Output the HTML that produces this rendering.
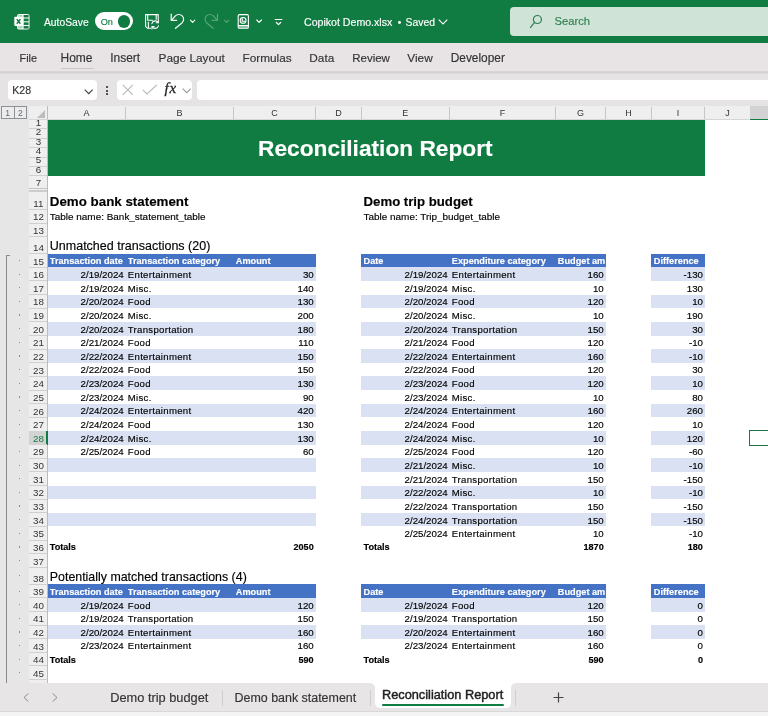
<!DOCTYPE html>
<html><head><meta charset="utf-8"><title>Copikot Demo.xlsx - Excel</title>
<style>
html,body{margin:0;padding:0}
body{width:768px;height:716px;overflow:hidden;position:relative;background:#fff;font-family:'Liberation Sans', Arial, sans-serif;}
.t{position:absolute;white-space:pre;-webkit-text-stroke:0.15px currentColor}
svg{position:absolute;overflow:visible}
</style></head><body>
<div style="position:absolute;left:0px;top:0px;width:768px;height:42.5px;background:#107c41"></div>
<svg style="left:14px;top:14px" width="16" height="16" viewBox="0 0 16 16">
<rect x="3.5" y="0.5" width="11.5" height="14.5" rx="1.3" fill="#a9d1b9" stroke="#fff" stroke-width="1"/>
<rect x="9.3" y="1" width="5.2" height="13.5" fill="#107c41"/>
<rect x="4" y="3.6" width="5.3" height="8.3" fill="#fff"/>
<g stroke="#f2f8f4" stroke-width="1.1"><line x1="9" y1="0.5" x2="9" y2="15"/><line x1="9" y1="4" x2="15" y2="4"/><line x1="9" y1="7.8" x2="15" y2="7.8"/><line x1="9" y1="11.5" x2="15" y2="11.5"/><line x1="3.5" y1="4" x2="9" y2="4"/><line x1="3.5" y1="11.5" x2="9" y2="11.5"/></g>
<rect x="0.3" y="2.8" width="8.6" height="9.1" rx="0.8" fill="#fff"/>
<path d="M2.8 5.1 L6.4 9.8 M6.4 5.1 L2.8 9.8" stroke="#107c41" stroke-width="1.5"/>
</svg>
<div class="t" style="left:44.00px;top:17.30px;font-size:10.3px;line-height:11px;font-weight:normal;color:#fff;">AutoSave</div>
<div style="position:absolute;left:94.5px;top:12px;width:38.7px;height:18px;background:#fff;border-radius:9px"></div>
<div style="position:absolute;left:117.5px;top:14.8px;width:12.8px;height:12.8px;border-radius:50%;background:#107c41"></div>
<div class="t" style="left:100.70px;top:16.90px;font-size:9.1px;line-height:10px;font-weight:normal;color:#107c41;">On</div>
<svg style="left:0;top:0" width="300" height="42" viewBox="0 0 300 42"><g fill="none" stroke="#fff" stroke-width="1.1" stroke-linecap="round" stroke-linejoin="round">
<path d="M158.2 19.4 V14.6 H145.6 V26.4 L147.5 28.3 H150.6"/>
<path d="M147.7 14.8 V20.2 H152.6 M156.2 14.8 V19.2"/>
<path d="M148.4 22.2 V27.8"/>
<path d="M151.9 23.6 A3.4 3.4 0 0 1 158.2 22.6 M158.4 25.8 A3.4 3.4 0 0 1 152.2 26.8"/>
<path d="M158.4 20.4 V22.8 H156.2 M152 29 V26.6 H154.2"/>
<path d="M171.2 14.2 V20.3 H176.6" stroke-width="1.2"/>
<path d="M171.7 19.8 L175.4 15.9 A4.8 4.8 0 1 1 182.2 22.7 L175.5 28.3" stroke-width="1.2"/>
<path d="M190.4 20.1 L192.6 22.3 L194.8 20.1"/>
<g opacity="0.3" stroke-width="1.2"><path d="M217.5 14.2 V20.3 H212.1"/><path d="M217 19.8 L213.3 15.9 A4.8 4.8 0 1 0 206.5 22.7 L213.2 28.3"/>
<path d="M224.4 20.1 L226.6 22.3 L228.8 20.1" stroke-width="1.1"/></g>
<rect x="238.2" y="14.6" width="10.2" height="13.7" rx="1.3"/>
<path d="M238.2 25.6 H248.4"/>
<circle cx="243.1" cy="20.4" r="2.9"/>
<path d="M242.2 18.3 V21.2 H244.6"/>
<path d="M256.7 20 L259.1 22.4 L261.5 20"/>
<path d="M275.2 19.5 H281.8" stroke-width="1.2"/>
<path d="M276.4 22.5 L278.5 24.6 L280.6 22.5" stroke-width="1.2"/>
</g>
<rect x="238.8" y="26.1" width="9" height="1.8" fill="#fff" opacity="0.45"/>
</svg>
<div class="t" style="left:304.00px;top:16.30px;font-size:10.6px;line-height:12px;font-weight:normal;color:#fff;">Copikot Demo.xlsx</div>
<div style="position:absolute;left:397.9px;top:20.9px;width:2.8px;height:2.8px;border-radius:50%;background:#fff"></div>
<div class="t" style="left:405.60px;top:17.30px;font-size:10.35px;line-height:11px;font-weight:normal;color:#fff;">Saved</div>
<svg style="left:438px;top:18.5px" width="10" height="6" viewBox="0 0 10 6"><path d="M0.7 0.7 L5 5 L9.3 0.7" fill="none" stroke="#fff" stroke-width="1.1"/></svg>
<div style="position:absolute;left:510px;top:7px;width:270px;height:29px;background:#cfe4d7;border-radius:4px"></div>
<svg style="left:529px;top:13.7px" width="14" height="15" viewBox="0 0 14 15"><g fill="none" stroke="#2e7d4f" stroke-width="1.2">
<circle cx="8.4" cy="5.5" r="4"/><path d="M5.5 8.4 L1.2 13.8"/></g></svg>
<div class="t" style="left:554.60px;top:15.30px;font-size:11.2px;line-height:12px;font-weight:normal;color:#2e7d4f;">Search</div>
<div style="position:absolute;left:0px;top:42.5px;width:768px;height:29px;background:#e8e4e6"></div>
<div style="position:absolute;left:0px;top:71px;width:768px;height:3px;background:linear-gradient(#dedcde 0,#cfcdcf 35%,#d9d7d9 70%,#e3e1e3 100%)"></div>
<div class="t" style="left:19.50px;top:52.00px;font-size:10.9px;line-height:12px;font-weight:normal;color:#333;">File</div>
<div class="t" style="left:60.50px;top:51.00px;font-size:12.0px;line-height:14px;font-weight:normal;color:#333;">Home</div>
<div class="t" style="left:110.20px;top:51.00px;font-size:12.0px;line-height:14px;font-weight:normal;color:#333;">Insert</div>
<div class="t" style="left:158.60px;top:51.00px;font-size:11.8px;line-height:14px;font-weight:normal;color:#333;">Page Layout</div>
<div class="t" style="left:242.50px;top:51.00px;font-size:11.8px;line-height:14px;font-weight:normal;color:#333;">Formulas</div>
<div class="t" style="left:309.30px;top:51.00px;font-size:11.8px;line-height:14px;font-weight:normal;color:#333;">Data</div>
<div class="t" style="left:352.20px;top:52.00px;font-size:11.5px;line-height:12px;font-weight:normal;color:#333;">Review</div>
<div class="t" style="left:407.30px;top:51.00px;font-size:11.8px;line-height:14px;font-weight:normal;color:#333;">View</div>
<div class="t" style="left:450.70px;top:51.00px;font-size:11.9px;line-height:14px;font-weight:normal;color:#333;">Developer</div>
<div style="position:absolute;left:60.5px;top:67.5px;width:33.5px;height:1.8px;background:#c9c7c9;border-radius:1px"></div>
<div style="position:absolute;left:0px;top:74px;width:768px;height:31.75px;background:#e6e3e5"></div>
<div style="position:absolute;left:8px;top:80px;width:89px;height:19.6px;background:#fff;border-radius:4px"></div>
<div class="t" style="left:12.30px;top:84.00px;font-size:10.6px;line-height:12px;font-weight:normal;color:#333;">K28</div>
<svg style="left:84px;top:88.8px" width="10" height="6" viewBox="0 0 10 6"><path d="M0.7 0.7 L4.7 4.7 L8.7 0.7" fill="none" stroke="#444" stroke-width="1.2"/></svg>
<div style="position:absolute;left:106.3px;top:85.8px;width:2px;height:2px;background:#444;border-radius:0.5px"></div>
<div style="position:absolute;left:106.3px;top:89.5px;width:2px;height:2px;background:#444;border-radius:0.5px"></div>
<div style="position:absolute;left:106.3px;top:93.2px;width:2px;height:2px;background:#444;border-radius:0.5px"></div>
<div style="position:absolute;left:117.2px;top:80px;width:75px;height:19.6px;background:#fff;border-radius:4px"></div>
<svg style="left:122px;top:84px" width="12" height="12" viewBox="0 0 12 12"><path d="M0.8 0.8 L10.8 10.8 M10.8 0.8 L0.8 10.8" fill="none" stroke="#b8b8b8" stroke-width="1.1"/></svg>
<svg style="left:141.5px;top:84px" width="16" height="11" viewBox="0 0 16 11"><path d="M0.8 5.8 L5 10 L14.8 0.8" fill="none" stroke="#b8b8b8" stroke-width="1.1"/></svg>
<div class="t" style="left:164.6px;top:79.6px;font-family:'Liberation Serif',serif;font-style:italic;font-size:15px;line-height:16px;color:#222;letter-spacing:0.8px;-webkit-text-stroke:0.3px #222">fx</div>
<svg style="left:182px;top:87.8px" width="10" height="6" viewBox="0 0 10 6"><path d="M0.7 0.7 L4.7 4.7 L8.7 0.7" fill="none" stroke="#9a9a9a" stroke-width="1.1"/></svg>
<div style="position:absolute;left:197.2px;top:80px;width:580px;height:19.6px;background:#fff;border-radius:4px"></div>
<div style="position:absolute;left:0px;top:105.75px;width:29px;height:577.25px;background:#e6e6e6"></div>
<div style="position:absolute;left:29px;top:105.75px;width:739px;height:13.75px;background:#efefef"></div>
<div style="position:absolute;left:29px;top:119.5px;width:18.5px;height:563.5px;background:#efefef"></div>
<svg style="left:37px;top:109.5px" width="8" height="8" viewBox="0 0 8 8"><path d="M8 0 L8 8 L0 8 Z" fill="#bdbdbd"/></svg>
<div style="position:absolute;left:1.3px;top:106px;width:25.7px;height:12.6px;border:1px solid #8c9196;box-sizing:border-box;background:#ececec"></div>
<div style="position:absolute;left:14.0px;top:106px;width:1px;height:12.6px;background:#8c9196"></div>
<div class="t" style="left:2.70px;width:10px;text-align:center;top:108.20px;font-size:8.6px;line-height:10px;font-weight:normal;color:#6a6a6a;-webkit-text-stroke:0;">1</div>
<div class="t" style="left:15.50px;width:10px;text-align:center;top:108.20px;font-size:8.6px;line-height:10px;font-weight:normal;color:#6a6a6a;-webkit-text-stroke:0;">2</div>
<div class="t" style="left:71.50px;width:30px;text-align:center;top:108.00px;font-size:9.0px;line-height:10px;font-weight:normal;color:#333;-webkit-text-stroke:0;">A</div>
<div style="position:absolute;left:125.0px;top:106.75px;width:1px;height:12.75px;background:#c6c6c6"></div>
<div class="t" style="left:164.50px;width:30px;text-align:center;top:108.00px;font-size:9.0px;line-height:10px;font-weight:normal;color:#333;-webkit-text-stroke:0;">B</div>
<div style="position:absolute;left:233.0px;top:106.75px;width:1px;height:12.75px;background:#c6c6c6"></div>
<div class="t" style="left:259.50px;width:30px;text-align:center;top:108.00px;font-size:9.0px;line-height:10px;font-weight:normal;color:#333;-webkit-text-stroke:0;">C</div>
<div style="position:absolute;left:315.0px;top:106.75px;width:1px;height:12.75px;background:#c6c6c6"></div>
<div class="t" style="left:323.38px;width:30px;text-align:center;top:108.00px;font-size:9.0px;line-height:10px;font-weight:normal;color:#333;-webkit-text-stroke:0;">D</div>
<div style="position:absolute;left:360.75px;top:106.75px;width:1px;height:12.75px;background:#c6c6c6"></div>
<div class="t" style="left:390.38px;width:30px;text-align:center;top:108.00px;font-size:9.0px;line-height:10px;font-weight:normal;color:#333;-webkit-text-stroke:0;">E</div>
<div style="position:absolute;left:449.0px;top:106.75px;width:1px;height:12.75px;background:#c6c6c6"></div>
<div class="t" style="left:487.50px;width:30px;text-align:center;top:108.00px;font-size:9.0px;line-height:10px;font-weight:normal;color:#333;-webkit-text-stroke:0;">F</div>
<div style="position:absolute;left:555.0px;top:106.75px;width:1px;height:12.75px;background:#c6c6c6"></div>
<div class="t" style="left:565.50px;width:30px;text-align:center;top:108.00px;font-size:9.0px;line-height:10px;font-weight:normal;color:#333;-webkit-text-stroke:0;">G</div>
<div style="position:absolute;left:605.0px;top:106.75px;width:1px;height:12.75px;background:#c6c6c6"></div>
<div class="t" style="left:613.50px;width:30px;text-align:center;top:108.00px;font-size:9.0px;line-height:10px;font-weight:normal;color:#333;-webkit-text-stroke:0;">H</div>
<div style="position:absolute;left:651.0px;top:106.75px;width:1px;height:12.75px;background:#c6c6c6"></div>
<div class="t" style="left:663.12px;width:30px;text-align:center;top:108.00px;font-size:9.0px;line-height:10px;font-weight:normal;color:#333;-webkit-text-stroke:0;">I</div>
<div style="position:absolute;left:704.25px;top:106.75px;width:1px;height:12.75px;background:#c6c6c6"></div>
<div class="t" style="left:712.50px;width:30px;text-align:center;top:108.00px;font-size:9.0px;line-height:10px;font-weight:normal;color:#333;-webkit-text-stroke:0;">J</div>
<div style="position:absolute;left:749.75px;top:106.75px;width:1px;height:12.75px;background:#c6c6c6"></div>
<div style="position:absolute;left:749.95px;top:105.75px;width:17.75px;height:13.75px;background:#d3d3d3"></div>
<div style="position:absolute;left:749.95px;top:118.7px;width:17.75px;height:1.4px;background:#107c41"></div>
<div class="t" style="left:760.12px;width:30px;text-align:center;top:108.00px;font-size:9.0px;line-height:10px;font-weight:normal;color:#333;-webkit-text-stroke:0;">K</div>
<div style="position:absolute;left:47px;top:105.75px;width:1px;height:577.25px;background:#bcbcbc"></div>
<div style="position:absolute;left:29px;top:118.9px;width:720px;height:0.8px;background:#d6d6d6"></div>
<div style="position:absolute;left:47.5px;top:119.5px;width:800px;height:563.5px;background:#fff"></div>
<div style="position:absolute;left:29px;top:119.50px;width:18px;height:9.38px;overflow:hidden">
<div class="t" style="left:0;width:18.8px;text-align:center;top:-1.60px;font-size:9.8px;line-height:9.8px;color:#333;-webkit-text-stroke:0">1</div></div>
<div style="position:absolute;left:29px;top:128.38px;width:18px;height:1px;background:#d0d0d0"></div>
<div style="position:absolute;left:29px;top:128.88px;width:18px;height:9.38px;overflow:hidden">
<div class="t" style="left:0;width:18.8px;text-align:center;top:-1.60px;font-size:9.8px;line-height:9.8px;color:#333;-webkit-text-stroke:0">2</div></div>
<div style="position:absolute;left:29px;top:137.76px;width:18px;height:1px;background:#d0d0d0"></div>
<div style="position:absolute;left:29px;top:138.26px;width:18px;height:9.38px;overflow:hidden">
<div class="t" style="left:0;width:18.8px;text-align:center;top:-1.60px;font-size:9.8px;line-height:9.8px;color:#333;-webkit-text-stroke:0">3</div></div>
<div style="position:absolute;left:29px;top:147.14px;width:18px;height:1px;background:#d0d0d0"></div>
<div style="position:absolute;left:29px;top:147.64px;width:18px;height:9.38px;overflow:hidden">
<div class="t" style="left:0;width:18.8px;text-align:center;top:-1.60px;font-size:9.8px;line-height:9.8px;color:#333;-webkit-text-stroke:0">4</div></div>
<div style="position:absolute;left:29px;top:156.52px;width:18px;height:1px;background:#d0d0d0"></div>
<div style="position:absolute;left:29px;top:157.02px;width:18px;height:9.38px;overflow:hidden">
<div class="t" style="left:0;width:18.8px;text-align:center;top:-1.60px;font-size:9.8px;line-height:9.8px;color:#333;-webkit-text-stroke:0">5</div></div>
<div style="position:absolute;left:29px;top:165.9px;width:18px;height:1px;background:#d0d0d0"></div>
<div style="position:absolute;left:29px;top:166.40px;width:18px;height:9.38px;overflow:hidden">
<div class="t" style="left:0;width:18.8px;text-align:center;top:-1.60px;font-size:9.8px;line-height:9.8px;color:#333;-webkit-text-stroke:0">6</div></div>
<div style="position:absolute;left:29px;top:175.28px;width:18px;height:1px;background:#d0d0d0"></div>
<div style="position:absolute;left:29px;top:175.80px;width:18px;height:12.50px;overflow:hidden">
<div class="t" style="left:0;width:18.8px;text-align:center;top:2.40px;font-size:9.8px;line-height:9.8px;color:#333;-webkit-text-stroke:0">7</div></div>
<div style="position:absolute;left:29px;top:187.8px;width:18px;height:1px;background:#d0d0d0"></div>
<div style="position:absolute;left:29px;top:190.50px;width:18px;height:18.80px;overflow:hidden">
<div class="t" style="left:0;width:18.8px;text-align:center;top:8.00px;font-size:9.8px;line-height:9.8px;color:#333;-webkit-text-stroke:0">11</div></div>
<div style="position:absolute;left:29px;top:208.8px;width:18px;height:1px;background:#d0d0d0"></div>
<div style="position:absolute;left:29px;top:209.30px;width:18px;height:13.70px;overflow:hidden">
<div class="t" style="left:0;width:18.8px;text-align:center;top:2.90px;font-size:9.8px;line-height:9.8px;color:#333;-webkit-text-stroke:0">12</div></div>
<div style="position:absolute;left:29px;top:222.5px;width:18px;height:1px;background:#d0d0d0"></div>
<div style="position:absolute;left:29px;top:223.00px;width:18px;height:13.30px;overflow:hidden">
<div class="t" style="left:0;width:18.8px;text-align:center;top:2.50px;font-size:9.8px;line-height:9.8px;color:#333;-webkit-text-stroke:0">13</div></div>
<div style="position:absolute;left:29px;top:235.8px;width:18px;height:1px;background:#d0d0d0"></div>
<div style="position:absolute;left:29px;top:236.30px;width:18px;height:17.40px;overflow:hidden">
<div class="t" style="left:0;width:18.8px;text-align:center;top:6.60px;font-size:9.8px;line-height:9.8px;color:#333;-webkit-text-stroke:0">14</div></div>
<div style="position:absolute;left:29px;top:253.2px;width:18px;height:1px;background:#d0d0d0"></div>
<div style="position:absolute;left:29px;top:253.70px;width:18px;height:13.64px;overflow:hidden">
<div class="t" style="left:0;width:18.8px;text-align:center;top:2.84px;font-size:9.8px;line-height:9.8px;color:#333;-webkit-text-stroke:0">15</div></div>
<div style="position:absolute;left:29px;top:266.84px;width:18px;height:1px;background:#d0d0d0"></div>
<div style="position:absolute;left:29px;top:267.34px;width:18px;height:13.64px;overflow:hidden">
<div class="t" style="left:0;width:18.8px;text-align:center;top:2.84px;font-size:9.8px;line-height:9.8px;color:#333;-webkit-text-stroke:0">16</div></div>
<div style="position:absolute;left:29px;top:280.48px;width:18px;height:1px;background:#d0d0d0"></div>
<div style="position:absolute;left:29px;top:280.98px;width:18px;height:13.64px;overflow:hidden">
<div class="t" style="left:0;width:18.8px;text-align:center;top:2.84px;font-size:9.8px;line-height:9.8px;color:#333;-webkit-text-stroke:0">17</div></div>
<div style="position:absolute;left:29px;top:294.12px;width:18px;height:1px;background:#d0d0d0"></div>
<div style="position:absolute;left:29px;top:294.62px;width:18px;height:13.64px;overflow:hidden">
<div class="t" style="left:0;width:18.8px;text-align:center;top:2.84px;font-size:9.8px;line-height:9.8px;color:#333;-webkit-text-stroke:0">18</div></div>
<div style="position:absolute;left:29px;top:307.76px;width:18px;height:1px;background:#d0d0d0"></div>
<div style="position:absolute;left:29px;top:308.26px;width:18px;height:13.64px;overflow:hidden">
<div class="t" style="left:0;width:18.8px;text-align:center;top:2.84px;font-size:9.8px;line-height:9.8px;color:#333;-webkit-text-stroke:0">19</div></div>
<div style="position:absolute;left:29px;top:321.4px;width:18px;height:1px;background:#d0d0d0"></div>
<div style="position:absolute;left:29px;top:321.90px;width:18px;height:13.64px;overflow:hidden">
<div class="t" style="left:0;width:18.8px;text-align:center;top:2.84px;font-size:9.8px;line-height:9.8px;color:#333;-webkit-text-stroke:0">20</div></div>
<div style="position:absolute;left:29px;top:335.03999999999996px;width:18px;height:1px;background:#d0d0d0"></div>
<div style="position:absolute;left:29px;top:335.54px;width:18px;height:13.64px;overflow:hidden">
<div class="t" style="left:0;width:18.8px;text-align:center;top:2.84px;font-size:9.8px;line-height:9.8px;color:#333;-webkit-text-stroke:0">21</div></div>
<div style="position:absolute;left:29px;top:348.68px;width:18px;height:1px;background:#d0d0d0"></div>
<div style="position:absolute;left:29px;top:349.18px;width:18px;height:13.64px;overflow:hidden">
<div class="t" style="left:0;width:18.8px;text-align:center;top:2.84px;font-size:9.8px;line-height:9.8px;color:#333;-webkit-text-stroke:0">22</div></div>
<div style="position:absolute;left:29px;top:362.32px;width:18px;height:1px;background:#d0d0d0"></div>
<div style="position:absolute;left:29px;top:362.82px;width:18px;height:13.64px;overflow:hidden">
<div class="t" style="left:0;width:18.8px;text-align:center;top:2.84px;font-size:9.8px;line-height:9.8px;color:#333;-webkit-text-stroke:0">23</div></div>
<div style="position:absolute;left:29px;top:375.96px;width:18px;height:1px;background:#d0d0d0"></div>
<div style="position:absolute;left:29px;top:376.46px;width:18px;height:13.64px;overflow:hidden">
<div class="t" style="left:0;width:18.8px;text-align:center;top:2.84px;font-size:9.8px;line-height:9.8px;color:#333;-webkit-text-stroke:0">24</div></div>
<div style="position:absolute;left:29px;top:389.6px;width:18px;height:1px;background:#d0d0d0"></div>
<div style="position:absolute;left:29px;top:390.10px;width:18px;height:13.64px;overflow:hidden">
<div class="t" style="left:0;width:18.8px;text-align:center;top:2.84px;font-size:9.8px;line-height:9.8px;color:#333;-webkit-text-stroke:0">25</div></div>
<div style="position:absolute;left:29px;top:403.24px;width:18px;height:1px;background:#d0d0d0"></div>
<div style="position:absolute;left:29px;top:403.74px;width:18px;height:13.64px;overflow:hidden">
<div class="t" style="left:0;width:18.8px;text-align:center;top:2.84px;font-size:9.8px;line-height:9.8px;color:#333;-webkit-text-stroke:0">26</div></div>
<div style="position:absolute;left:29px;top:416.88px;width:18px;height:1px;background:#d0d0d0"></div>
<div style="position:absolute;left:29px;top:417.38px;width:18px;height:13.64px;overflow:hidden">
<div class="t" style="left:0;width:18.8px;text-align:center;top:2.84px;font-size:9.8px;line-height:9.8px;color:#333;-webkit-text-stroke:0">27</div></div>
<div style="position:absolute;left:29px;top:430.52px;width:18px;height:1px;background:#d0d0d0"></div>
<div style="position:absolute;left:29px;top:431.02px;width:18px;height:13.639999999999986px;background:#d3d3d3"></div>
<div style="position:absolute;left:46px;top:431.02px;width:1.6px;height:13.639999999999986px;background:#107c41"></div>
<div style="position:absolute;left:29px;top:431.02px;width:18px;height:13.64px;overflow:hidden">
<div class="t" style="left:0;width:18.8px;text-align:center;top:2.84px;font-size:9.8px;line-height:9.8px;color:#107c41;-webkit-text-stroke:0">28</div></div>
<div style="position:absolute;left:29px;top:444.15999999999997px;width:18px;height:1px;background:#d0d0d0"></div>
<div style="position:absolute;left:29px;top:444.66px;width:18px;height:13.64px;overflow:hidden">
<div class="t" style="left:0;width:18.8px;text-align:center;top:2.84px;font-size:9.8px;line-height:9.8px;color:#333;-webkit-text-stroke:0">29</div></div>
<div style="position:absolute;left:29px;top:457.8px;width:18px;height:1px;background:#d0d0d0"></div>
<div style="position:absolute;left:29px;top:458.30px;width:18px;height:13.64px;overflow:hidden">
<div class="t" style="left:0;width:18.8px;text-align:center;top:2.84px;font-size:9.8px;line-height:9.8px;color:#333;-webkit-text-stroke:0">30</div></div>
<div style="position:absolute;left:29px;top:471.44px;width:18px;height:1px;background:#d0d0d0"></div>
<div style="position:absolute;left:29px;top:471.94px;width:18px;height:13.64px;overflow:hidden">
<div class="t" style="left:0;width:18.8px;text-align:center;top:2.84px;font-size:9.8px;line-height:9.8px;color:#333;-webkit-text-stroke:0">31</div></div>
<div style="position:absolute;left:29px;top:485.08px;width:18px;height:1px;background:#d0d0d0"></div>
<div style="position:absolute;left:29px;top:485.58px;width:18px;height:13.64px;overflow:hidden">
<div class="t" style="left:0;width:18.8px;text-align:center;top:2.84px;font-size:9.8px;line-height:9.8px;color:#333;-webkit-text-stroke:0">32</div></div>
<div style="position:absolute;left:29px;top:498.72px;width:18px;height:1px;background:#d0d0d0"></div>
<div style="position:absolute;left:29px;top:499.22px;width:18px;height:13.64px;overflow:hidden">
<div class="t" style="left:0;width:18.8px;text-align:center;top:2.84px;font-size:9.8px;line-height:9.8px;color:#333;-webkit-text-stroke:0">33</div></div>
<div style="position:absolute;left:29px;top:512.36px;width:18px;height:1px;background:#d0d0d0"></div>
<div style="position:absolute;left:29px;top:512.86px;width:18px;height:13.64px;overflow:hidden">
<div class="t" style="left:0;width:18.8px;text-align:center;top:2.84px;font-size:9.8px;line-height:9.8px;color:#333;-webkit-text-stroke:0">34</div></div>
<div style="position:absolute;left:29px;top:526.0px;width:18px;height:1px;background:#d0d0d0"></div>
<div style="position:absolute;left:29px;top:526.50px;width:18px;height:13.64px;overflow:hidden">
<div class="t" style="left:0;width:18.8px;text-align:center;top:2.84px;font-size:9.8px;line-height:9.8px;color:#333;-webkit-text-stroke:0">35</div></div>
<div style="position:absolute;left:29px;top:539.64px;width:18px;height:1px;background:#d0d0d0"></div>
<div style="position:absolute;left:29px;top:540.14px;width:18px;height:13.64px;overflow:hidden">
<div class="t" style="left:0;width:18.8px;text-align:center;top:2.84px;font-size:9.8px;line-height:9.8px;color:#333;-webkit-text-stroke:0">36</div></div>
<div style="position:absolute;left:29px;top:553.28px;width:18px;height:1px;background:#d0d0d0"></div>
<div style="position:absolute;left:29px;top:553.78px;width:18px;height:13.64px;overflow:hidden">
<div class="t" style="left:0;width:18.8px;text-align:center;top:2.84px;font-size:9.8px;line-height:9.8px;color:#333;-webkit-text-stroke:0">37</div></div>
<div style="position:absolute;left:29px;top:566.9200000000001px;width:18px;height:1px;background:#d0d0d0"></div>
<div style="position:absolute;left:29px;top:567.40px;width:18px;height:17.00px;overflow:hidden">
<div class="t" style="left:0;width:18.8px;text-align:center;top:6.20px;font-size:9.8px;line-height:9.8px;color:#333;-webkit-text-stroke:0">38</div></div>
<div style="position:absolute;left:29px;top:583.9px;width:18px;height:1px;background:#d0d0d0"></div>
<div style="position:absolute;left:29px;top:584.40px;width:18px;height:13.59px;overflow:hidden">
<div class="t" style="left:0;width:18.8px;text-align:center;top:2.79px;font-size:9.8px;line-height:9.8px;color:#333;-webkit-text-stroke:0">39</div></div>
<div style="position:absolute;left:29px;top:597.49px;width:18px;height:1px;background:#d0d0d0"></div>
<div style="position:absolute;left:29px;top:597.99px;width:18px;height:13.59px;overflow:hidden">
<div class="t" style="left:0;width:18.8px;text-align:center;top:2.79px;font-size:9.8px;line-height:9.8px;color:#333;-webkit-text-stroke:0">40</div></div>
<div style="position:absolute;left:29px;top:611.0799999999999px;width:18px;height:1px;background:#d0d0d0"></div>
<div style="position:absolute;left:29px;top:611.58px;width:18px;height:13.59px;overflow:hidden">
<div class="t" style="left:0;width:18.8px;text-align:center;top:2.79px;font-size:9.8px;line-height:9.8px;color:#333;-webkit-text-stroke:0">41</div></div>
<div style="position:absolute;left:29px;top:624.67px;width:18px;height:1px;background:#d0d0d0"></div>
<div style="position:absolute;left:29px;top:625.17px;width:18px;height:13.59px;overflow:hidden">
<div class="t" style="left:0;width:18.8px;text-align:center;top:2.79px;font-size:9.8px;line-height:9.8px;color:#333;-webkit-text-stroke:0">42</div></div>
<div style="position:absolute;left:29px;top:638.26px;width:18px;height:1px;background:#d0d0d0"></div>
<div style="position:absolute;left:29px;top:638.76px;width:18px;height:13.59px;overflow:hidden">
<div class="t" style="left:0;width:18.8px;text-align:center;top:2.79px;font-size:9.8px;line-height:9.8px;color:#333;-webkit-text-stroke:0">43</div></div>
<div style="position:absolute;left:29px;top:651.85px;width:18px;height:1px;background:#d0d0d0"></div>
<div style="position:absolute;left:29px;top:652.35px;width:18px;height:13.59px;overflow:hidden">
<div class="t" style="left:0;width:18.8px;text-align:center;top:2.79px;font-size:9.8px;line-height:9.8px;color:#333;-webkit-text-stroke:0">44</div></div>
<div style="position:absolute;left:29px;top:665.4399999999999px;width:18px;height:1px;background:#d0d0d0"></div>
<div style="position:absolute;left:29px;top:665.94px;width:18px;height:13.59px;overflow:hidden">
<div class="t" style="left:0;width:18.8px;text-align:center;top:2.79px;font-size:9.8px;line-height:9.8px;color:#333;-webkit-text-stroke:0">45</div></div>
<div style="position:absolute;left:29px;top:679.03px;width:18px;height:1px;background:#d0d0d0"></div>
<div style="position:absolute;left:29px;top:679.53px;width:18px;height:13.59px;overflow:hidden">
<div class="t" style="left:0;width:18.8px;text-align:center;top:2.79px;font-size:9.8px;line-height:9.8px;color:#333;-webkit-text-stroke:0">46</div></div>
<div style="position:absolute;left:29px;top:692.62px;width:18px;height:1px;background:#d0d0d0"></div>
<div style="position:absolute;left:29px;top:188.3px;width:18px;height:1px;background:#c4c4c4"></div>
<div style="position:absolute;left:29px;top:190.4px;width:18px;height:1.3px;background:#cdcdcd"></div>
<div style="position:absolute;left:48px;top:120px;width:656.75px;height:56px;background:#107c41"></div>
<div class="t" style="left:175.30px;width:400px;text-align:center;top:135.20px;font-size:22.7px;line-height:26px;font-weight:bold;color:#fff;">Reconciliation Report</div>
<div class="t" style="left:49.80px;top:194.00px;font-size:13.35px;line-height:15px;font-weight:bold;color:#000;">Demo bank statement</div>
<div class="t" style="left:49.80px;top:211.40px;font-size:9.95px;line-height:11px;font-weight:normal;color:#000;">Table name: Bank_statement_table</div>
<div class="t" style="left:49.80px;top:239.40px;font-size:12.5px;line-height:14px;font-weight:normal;color:#000;">Unmatched transactions (20)</div>
<div class="t" style="left:363.55px;top:194.00px;font-size:13.2px;line-height:15px;font-weight:bold;color:#000;">Demo trip budget</div>
<div class="t" style="left:363.55px;top:211.40px;font-size:9.95px;line-height:11px;font-weight:normal;color:#000;">Table name: Trip_budget_table</div>
<div class="t" style="left:49.80px;top:570.10px;font-size:12.4px;line-height:14px;font-weight:normal;color:#000;">Potentially matched transactions (4)</div>
<div style="position:absolute;left:48px;top:253.7px;width:267.8px;height:13.639999999999986px;background:#4472c4"></div>
<div style="position:absolute;left:48px;top:267.34px;width:267.8px;height:13.640000000000043px;background:#d9e1f2"></div>
<div style="position:absolute;left:48px;top:294.62px;width:267.8px;height:13.639999999999986px;background:#d9e1f2"></div>
<div style="position:absolute;left:48px;top:321.9px;width:267.8px;height:13.639999999999986px;background:#d9e1f2"></div>
<div style="position:absolute;left:48px;top:349.18px;width:267.8px;height:13.639999999999986px;background:#d9e1f2"></div>
<div style="position:absolute;left:48px;top:376.46px;width:267.8px;height:13.640000000000043px;background:#d9e1f2"></div>
<div style="position:absolute;left:48px;top:403.74px;width:267.8px;height:13.639999999999986px;background:#d9e1f2"></div>
<div style="position:absolute;left:48px;top:431.02px;width:267.8px;height:13.639999999999986px;background:#d9e1f2"></div>
<div style="position:absolute;left:48px;top:458.3px;width:267.8px;height:13.639999999999986px;background:#d9e1f2"></div>
<div style="position:absolute;left:48px;top:485.58px;width:267.8px;height:13.640000000000043px;background:#d9e1f2"></div>
<div style="position:absolute;left:48px;top:512.86px;width:267.8px;height:13.639999999999986px;background:#d9e1f2"></div>
<div class="t" style="left:49.80px;top:257.15px;width:75.70px;overflow:hidden;font-size:9.2px;line-height:9.2px;font-weight:bold;color:#fff">Transaction date</div>
<div class="t" style="left:127.80px;top:257.15px;width:105.70px;overflow:hidden;font-size:9.2px;line-height:9.2px;font-weight:bold;color:#fff">Transaction category</div>
<div class="t" style="left:235.80px;top:257.15px;width:79.70px;overflow:hidden;font-size:9.2px;line-height:9.2px;font-weight:bold;color:#fff">Amount</div>
<div class="t" style="left:3.70px;width:120px;text-align:right;top:268.98px;font-size:9.7px;line-height:11px;font-weight:normal;color:#000;">2/19/2024</div>
<div class="t" style="left:127.80px;top:268.98px;font-size:9.6px;line-height:11px;font-weight:normal;color:#000;letter-spacing:0.3px;">Entertainment</div>
<div class="t" style="left:193.70px;width:120px;text-align:right;top:268.98px;font-size:9.7px;line-height:11px;font-weight:normal;color:#000;">30</div>
<div class="t" style="left:3.70px;width:120px;text-align:right;top:282.62px;font-size:9.7px;line-height:11px;font-weight:normal;color:#000;">2/19/2024</div>
<div class="t" style="left:127.80px;top:282.62px;font-size:9.6px;line-height:11px;font-weight:normal;color:#000;letter-spacing:0.3px;">Misc.</div>
<div class="t" style="left:193.70px;width:120px;text-align:right;top:282.62px;font-size:9.7px;line-height:11px;font-weight:normal;color:#000;">140</div>
<div class="t" style="left:3.70px;width:120px;text-align:right;top:296.26px;font-size:9.7px;line-height:11px;font-weight:normal;color:#000;">2/20/2024</div>
<div class="t" style="left:127.80px;top:296.26px;font-size:9.6px;line-height:11px;font-weight:normal;color:#000;letter-spacing:0.3px;">Food</div>
<div class="t" style="left:193.70px;width:120px;text-align:right;top:296.26px;font-size:9.7px;line-height:11px;font-weight:normal;color:#000;">130</div>
<div class="t" style="left:3.70px;width:120px;text-align:right;top:309.90px;font-size:9.7px;line-height:11px;font-weight:normal;color:#000;">2/20/2024</div>
<div class="t" style="left:127.80px;top:309.90px;font-size:9.6px;line-height:11px;font-weight:normal;color:#000;letter-spacing:0.3px;">Misc.</div>
<div class="t" style="left:193.70px;width:120px;text-align:right;top:309.90px;font-size:9.7px;line-height:11px;font-weight:normal;color:#000;">200</div>
<div class="t" style="left:3.70px;width:120px;text-align:right;top:323.54px;font-size:9.7px;line-height:11px;font-weight:normal;color:#000;">2/20/2024</div>
<div class="t" style="left:127.80px;top:323.54px;font-size:9.6px;line-height:11px;font-weight:normal;color:#000;letter-spacing:0.3px;">Transportation</div>
<div class="t" style="left:193.70px;width:120px;text-align:right;top:323.54px;font-size:9.7px;line-height:11px;font-weight:normal;color:#000;">180</div>
<div class="t" style="left:3.70px;width:120px;text-align:right;top:337.18px;font-size:9.7px;line-height:11px;font-weight:normal;color:#000;">2/21/2024</div>
<div class="t" style="left:127.80px;top:337.18px;font-size:9.6px;line-height:11px;font-weight:normal;color:#000;letter-spacing:0.3px;">Food</div>
<div class="t" style="left:193.70px;width:120px;text-align:right;top:337.18px;font-size:9.7px;line-height:11px;font-weight:normal;color:#000;">110</div>
<div class="t" style="left:3.70px;width:120px;text-align:right;top:350.82px;font-size:9.7px;line-height:11px;font-weight:normal;color:#000;">2/22/2024</div>
<div class="t" style="left:127.80px;top:350.82px;font-size:9.6px;line-height:11px;font-weight:normal;color:#000;letter-spacing:0.3px;">Entertainment</div>
<div class="t" style="left:193.70px;width:120px;text-align:right;top:350.82px;font-size:9.7px;line-height:11px;font-weight:normal;color:#000;">150</div>
<div class="t" style="left:3.70px;width:120px;text-align:right;top:364.46px;font-size:9.7px;line-height:11px;font-weight:normal;color:#000;">2/22/2024</div>
<div class="t" style="left:127.80px;top:364.46px;font-size:9.6px;line-height:11px;font-weight:normal;color:#000;letter-spacing:0.3px;">Food</div>
<div class="t" style="left:193.70px;width:120px;text-align:right;top:364.46px;font-size:9.7px;line-height:11px;font-weight:normal;color:#000;">150</div>
<div class="t" style="left:3.70px;width:120px;text-align:right;top:378.10px;font-size:9.7px;line-height:11px;font-weight:normal;color:#000;">2/23/2024</div>
<div class="t" style="left:127.80px;top:378.10px;font-size:9.6px;line-height:11px;font-weight:normal;color:#000;letter-spacing:0.3px;">Food</div>
<div class="t" style="left:193.70px;width:120px;text-align:right;top:378.10px;font-size:9.7px;line-height:11px;font-weight:normal;color:#000;">130</div>
<div class="t" style="left:3.70px;width:120px;text-align:right;top:391.74px;font-size:9.7px;line-height:11px;font-weight:normal;color:#000;">2/23/2024</div>
<div class="t" style="left:127.80px;top:391.74px;font-size:9.6px;line-height:11px;font-weight:normal;color:#000;letter-spacing:0.3px;">Misc.</div>
<div class="t" style="left:193.70px;width:120px;text-align:right;top:391.74px;font-size:9.7px;line-height:11px;font-weight:normal;color:#000;">90</div>
<div class="t" style="left:3.70px;width:120px;text-align:right;top:405.38px;font-size:9.7px;line-height:11px;font-weight:normal;color:#000;">2/24/2024</div>
<div class="t" style="left:127.80px;top:405.38px;font-size:9.6px;line-height:11px;font-weight:normal;color:#000;letter-spacing:0.3px;">Entertainment</div>
<div class="t" style="left:193.70px;width:120px;text-align:right;top:405.38px;font-size:9.7px;line-height:11px;font-weight:normal;color:#000;">420</div>
<div class="t" style="left:3.70px;width:120px;text-align:right;top:419.02px;font-size:9.7px;line-height:11px;font-weight:normal;color:#000;">2/24/2024</div>
<div class="t" style="left:127.80px;top:419.02px;font-size:9.6px;line-height:11px;font-weight:normal;color:#000;letter-spacing:0.3px;">Food</div>
<div class="t" style="left:193.70px;width:120px;text-align:right;top:419.02px;font-size:9.7px;line-height:11px;font-weight:normal;color:#000;">130</div>
<div class="t" style="left:3.70px;width:120px;text-align:right;top:432.66px;font-size:9.7px;line-height:11px;font-weight:normal;color:#000;">2/24/2024</div>
<div class="t" style="left:127.80px;top:432.66px;font-size:9.6px;line-height:11px;font-weight:normal;color:#000;letter-spacing:0.3px;">Misc.</div>
<div class="t" style="left:193.70px;width:120px;text-align:right;top:432.66px;font-size:9.7px;line-height:11px;font-weight:normal;color:#000;">130</div>
<div class="t" style="left:3.70px;width:120px;text-align:right;top:446.30px;font-size:9.7px;line-height:11px;font-weight:normal;color:#000;">2/25/2024</div>
<div class="t" style="left:127.80px;top:446.30px;font-size:9.6px;line-height:11px;font-weight:normal;color:#000;letter-spacing:0.3px;">Food</div>
<div class="t" style="left:193.70px;width:120px;text-align:right;top:446.30px;font-size:9.7px;line-height:11px;font-weight:normal;color:#000;">60</div>
<div class="t" style="left:49.80px;top:542.48px;font-size:9.1px;line-height:10px;font-weight:bold;color:#000;">Totals</div>
<div class="t" style="left:193.70px;width:120px;text-align:right;top:542.48px;font-size:9.1px;line-height:10px;font-weight:bold;color:#000;">2050</div>
<div style="position:absolute;left:360.95px;top:253.7px;width:244.84999999999997px;height:13.639999999999986px;background:#4472c4"></div>
<div style="position:absolute;left:360.95px;top:267.34px;width:244.84999999999997px;height:13.640000000000043px;background:#d9e1f2"></div>
<div style="position:absolute;left:360.95px;top:294.62px;width:244.84999999999997px;height:13.639999999999986px;background:#d9e1f2"></div>
<div style="position:absolute;left:360.95px;top:321.9px;width:244.84999999999997px;height:13.639999999999986px;background:#d9e1f2"></div>
<div style="position:absolute;left:360.95px;top:349.18px;width:244.84999999999997px;height:13.639999999999986px;background:#d9e1f2"></div>
<div style="position:absolute;left:360.95px;top:376.46px;width:244.84999999999997px;height:13.640000000000043px;background:#d9e1f2"></div>
<div style="position:absolute;left:360.95px;top:403.74px;width:244.84999999999997px;height:13.639999999999986px;background:#d9e1f2"></div>
<div style="position:absolute;left:360.95px;top:431.02px;width:244.84999999999997px;height:13.639999999999986px;background:#d9e1f2"></div>
<div style="position:absolute;left:360.95px;top:458.3px;width:244.84999999999997px;height:13.639999999999986px;background:#d9e1f2"></div>
<div style="position:absolute;left:360.95px;top:485.58px;width:244.84999999999997px;height:13.640000000000043px;background:#d9e1f2"></div>
<div style="position:absolute;left:360.95px;top:512.86px;width:244.84999999999997px;height:13.639999999999986px;background:#d9e1f2"></div>
<div class="t" style="left:363.55px;top:257.15px;width:85.95px;overflow:hidden;font-size:9.2px;line-height:9.2px;font-weight:bold;color:#fff">Date</div>
<div class="t" style="left:451.80px;top:257.15px;width:103.70px;overflow:hidden;font-size:9.2px;line-height:9.2px;font-weight:bold;color:#fff">Expenditure category</div>
<div class="t" style="left:557.80px;top:257.15px;width:47.70px;overflow:hidden;font-size:9.2px;line-height:9.2px;font-weight:bold;color:#fff">Budget amount</div>
<div class="t" style="left:327.70px;width:120px;text-align:right;top:268.98px;font-size:9.7px;line-height:11px;font-weight:normal;color:#000;">2/19/2024</div>
<div class="t" style="left:451.80px;top:268.98px;font-size:9.6px;line-height:11px;font-weight:normal;color:#000;letter-spacing:0.3px;">Entertainment</div>
<div class="t" style="left:483.70px;width:120px;text-align:right;top:268.98px;font-size:9.7px;line-height:11px;font-weight:normal;color:#000;">160</div>
<div class="t" style="left:327.70px;width:120px;text-align:right;top:282.62px;font-size:9.7px;line-height:11px;font-weight:normal;color:#000;">2/19/2024</div>
<div class="t" style="left:451.80px;top:282.62px;font-size:9.6px;line-height:11px;font-weight:normal;color:#000;letter-spacing:0.3px;">Misc.</div>
<div class="t" style="left:483.70px;width:120px;text-align:right;top:282.62px;font-size:9.7px;line-height:11px;font-weight:normal;color:#000;">10</div>
<div class="t" style="left:327.70px;width:120px;text-align:right;top:296.26px;font-size:9.7px;line-height:11px;font-weight:normal;color:#000;">2/20/2024</div>
<div class="t" style="left:451.80px;top:296.26px;font-size:9.6px;line-height:11px;font-weight:normal;color:#000;letter-spacing:0.3px;">Food</div>
<div class="t" style="left:483.70px;width:120px;text-align:right;top:296.26px;font-size:9.7px;line-height:11px;font-weight:normal;color:#000;">120</div>
<div class="t" style="left:327.70px;width:120px;text-align:right;top:309.90px;font-size:9.7px;line-height:11px;font-weight:normal;color:#000;">2/20/2024</div>
<div class="t" style="left:451.80px;top:309.90px;font-size:9.6px;line-height:11px;font-weight:normal;color:#000;letter-spacing:0.3px;">Misc.</div>
<div class="t" style="left:483.70px;width:120px;text-align:right;top:309.90px;font-size:9.7px;line-height:11px;font-weight:normal;color:#000;">10</div>
<div class="t" style="left:327.70px;width:120px;text-align:right;top:323.54px;font-size:9.7px;line-height:11px;font-weight:normal;color:#000;">2/20/2024</div>
<div class="t" style="left:451.80px;top:323.54px;font-size:9.6px;line-height:11px;font-weight:normal;color:#000;letter-spacing:0.3px;">Transportation</div>
<div class="t" style="left:483.70px;width:120px;text-align:right;top:323.54px;font-size:9.7px;line-height:11px;font-weight:normal;color:#000;">150</div>
<div class="t" style="left:327.70px;width:120px;text-align:right;top:337.18px;font-size:9.7px;line-height:11px;font-weight:normal;color:#000;">2/21/2024</div>
<div class="t" style="left:451.80px;top:337.18px;font-size:9.6px;line-height:11px;font-weight:normal;color:#000;letter-spacing:0.3px;">Food</div>
<div class="t" style="left:483.70px;width:120px;text-align:right;top:337.18px;font-size:9.7px;line-height:11px;font-weight:normal;color:#000;">120</div>
<div class="t" style="left:327.70px;width:120px;text-align:right;top:350.82px;font-size:9.7px;line-height:11px;font-weight:normal;color:#000;">2/22/2024</div>
<div class="t" style="left:451.80px;top:350.82px;font-size:9.6px;line-height:11px;font-weight:normal;color:#000;letter-spacing:0.3px;">Entertainment</div>
<div class="t" style="left:483.70px;width:120px;text-align:right;top:350.82px;font-size:9.7px;line-height:11px;font-weight:normal;color:#000;">160</div>
<div class="t" style="left:327.70px;width:120px;text-align:right;top:364.46px;font-size:9.7px;line-height:11px;font-weight:normal;color:#000;">2/22/2024</div>
<div class="t" style="left:451.80px;top:364.46px;font-size:9.6px;line-height:11px;font-weight:normal;color:#000;letter-spacing:0.3px;">Food</div>
<div class="t" style="left:483.70px;width:120px;text-align:right;top:364.46px;font-size:9.7px;line-height:11px;font-weight:normal;color:#000;">120</div>
<div class="t" style="left:327.70px;width:120px;text-align:right;top:378.10px;font-size:9.7px;line-height:11px;font-weight:normal;color:#000;">2/23/2024</div>
<div class="t" style="left:451.80px;top:378.10px;font-size:9.6px;line-height:11px;font-weight:normal;color:#000;letter-spacing:0.3px;">Food</div>
<div class="t" style="left:483.70px;width:120px;text-align:right;top:378.10px;font-size:9.7px;line-height:11px;font-weight:normal;color:#000;">120</div>
<div class="t" style="left:327.70px;width:120px;text-align:right;top:391.74px;font-size:9.7px;line-height:11px;font-weight:normal;color:#000;">2/23/2024</div>
<div class="t" style="left:451.80px;top:391.74px;font-size:9.6px;line-height:11px;font-weight:normal;color:#000;letter-spacing:0.3px;">Misc.</div>
<div class="t" style="left:483.70px;width:120px;text-align:right;top:391.74px;font-size:9.7px;line-height:11px;font-weight:normal;color:#000;">10</div>
<div class="t" style="left:327.70px;width:120px;text-align:right;top:405.38px;font-size:9.7px;line-height:11px;font-weight:normal;color:#000;">2/24/2024</div>
<div class="t" style="left:451.80px;top:405.38px;font-size:9.6px;line-height:11px;font-weight:normal;color:#000;letter-spacing:0.3px;">Entertainment</div>
<div class="t" style="left:483.70px;width:120px;text-align:right;top:405.38px;font-size:9.7px;line-height:11px;font-weight:normal;color:#000;">160</div>
<div class="t" style="left:327.70px;width:120px;text-align:right;top:419.02px;font-size:9.7px;line-height:11px;font-weight:normal;color:#000;">2/24/2024</div>
<div class="t" style="left:451.80px;top:419.02px;font-size:9.6px;line-height:11px;font-weight:normal;color:#000;letter-spacing:0.3px;">Food</div>
<div class="t" style="left:483.70px;width:120px;text-align:right;top:419.02px;font-size:9.7px;line-height:11px;font-weight:normal;color:#000;">120</div>
<div class="t" style="left:327.70px;width:120px;text-align:right;top:432.66px;font-size:9.7px;line-height:11px;font-weight:normal;color:#000;">2/24/2024</div>
<div class="t" style="left:451.80px;top:432.66px;font-size:9.6px;line-height:11px;font-weight:normal;color:#000;letter-spacing:0.3px;">Misc.</div>
<div class="t" style="left:483.70px;width:120px;text-align:right;top:432.66px;font-size:9.7px;line-height:11px;font-weight:normal;color:#000;">10</div>
<div class="t" style="left:327.70px;width:120px;text-align:right;top:446.30px;font-size:9.7px;line-height:11px;font-weight:normal;color:#000;">2/25/2024</div>
<div class="t" style="left:451.80px;top:446.30px;font-size:9.6px;line-height:11px;font-weight:normal;color:#000;letter-spacing:0.3px;">Food</div>
<div class="t" style="left:483.70px;width:120px;text-align:right;top:446.30px;font-size:9.7px;line-height:11px;font-weight:normal;color:#000;">120</div>
<div class="t" style="left:327.70px;width:120px;text-align:right;top:459.94px;font-size:9.7px;line-height:11px;font-weight:normal;color:#000;">2/21/2024</div>
<div class="t" style="left:451.80px;top:459.94px;font-size:9.6px;line-height:11px;font-weight:normal;color:#000;letter-spacing:0.3px;">Misc.</div>
<div class="t" style="left:483.70px;width:120px;text-align:right;top:459.94px;font-size:9.7px;line-height:11px;font-weight:normal;color:#000;">10</div>
<div class="t" style="left:327.70px;width:120px;text-align:right;top:473.58px;font-size:9.7px;line-height:11px;font-weight:normal;color:#000;">2/21/2024</div>
<div class="t" style="left:451.80px;top:473.58px;font-size:9.6px;line-height:11px;font-weight:normal;color:#000;letter-spacing:0.3px;">Transportation</div>
<div class="t" style="left:483.70px;width:120px;text-align:right;top:473.58px;font-size:9.7px;line-height:11px;font-weight:normal;color:#000;">150</div>
<div class="t" style="left:327.70px;width:120px;text-align:right;top:487.22px;font-size:9.7px;line-height:11px;font-weight:normal;color:#000;">2/22/2024</div>
<div class="t" style="left:451.80px;top:487.22px;font-size:9.6px;line-height:11px;font-weight:normal;color:#000;letter-spacing:0.3px;">Misc.</div>
<div class="t" style="left:483.70px;width:120px;text-align:right;top:487.22px;font-size:9.7px;line-height:11px;font-weight:normal;color:#000;">10</div>
<div class="t" style="left:327.70px;width:120px;text-align:right;top:500.86px;font-size:9.7px;line-height:11px;font-weight:normal;color:#000;">2/22/2024</div>
<div class="t" style="left:451.80px;top:500.86px;font-size:9.6px;line-height:11px;font-weight:normal;color:#000;letter-spacing:0.3px;">Transportation</div>
<div class="t" style="left:483.70px;width:120px;text-align:right;top:500.86px;font-size:9.7px;line-height:11px;font-weight:normal;color:#000;">150</div>
<div class="t" style="left:327.70px;width:120px;text-align:right;top:514.50px;font-size:9.7px;line-height:11px;font-weight:normal;color:#000;">2/24/2024</div>
<div class="t" style="left:451.80px;top:514.50px;font-size:9.6px;line-height:11px;font-weight:normal;color:#000;letter-spacing:0.3px;">Transportation</div>
<div class="t" style="left:483.70px;width:120px;text-align:right;top:514.50px;font-size:9.7px;line-height:11px;font-weight:normal;color:#000;">150</div>
<div class="t" style="left:327.70px;width:120px;text-align:right;top:528.14px;font-size:9.7px;line-height:11px;font-weight:normal;color:#000;">2/25/2024</div>
<div class="t" style="left:451.80px;top:528.14px;font-size:9.6px;line-height:11px;font-weight:normal;color:#000;letter-spacing:0.3px;">Entertainment</div>
<div class="t" style="left:483.70px;width:120px;text-align:right;top:528.14px;font-size:9.7px;line-height:11px;font-weight:normal;color:#000;">10</div>
<div class="t" style="left:363.55px;top:542.48px;font-size:9.1px;line-height:10px;font-weight:bold;color:#000;">Totals</div>
<div class="t" style="left:483.70px;width:120px;text-align:right;top:542.48px;font-size:9.1px;line-height:10px;font-weight:bold;color:#000;">1870</div>
<div style="position:absolute;left:651.2px;top:253.7px;width:53.84999999999991px;height:13.639999999999986px;background:#4472c4"></div>
<div style="position:absolute;left:651.2px;top:267.34px;width:53.84999999999991px;height:13.640000000000043px;background:#d9e1f2"></div>
<div style="position:absolute;left:651.2px;top:294.62px;width:53.84999999999991px;height:13.639999999999986px;background:#d9e1f2"></div>
<div style="position:absolute;left:651.2px;top:321.9px;width:53.84999999999991px;height:13.639999999999986px;background:#d9e1f2"></div>
<div style="position:absolute;left:651.2px;top:349.18px;width:53.84999999999991px;height:13.639999999999986px;background:#d9e1f2"></div>
<div style="position:absolute;left:651.2px;top:376.46px;width:53.84999999999991px;height:13.640000000000043px;background:#d9e1f2"></div>
<div style="position:absolute;left:651.2px;top:403.74px;width:53.84999999999991px;height:13.639999999999986px;background:#d9e1f2"></div>
<div style="position:absolute;left:651.2px;top:431.02px;width:53.84999999999991px;height:13.639999999999986px;background:#d9e1f2"></div>
<div style="position:absolute;left:651.2px;top:458.3px;width:53.84999999999991px;height:13.639999999999986px;background:#d9e1f2"></div>
<div style="position:absolute;left:651.2px;top:485.58px;width:53.84999999999991px;height:13.640000000000043px;background:#d9e1f2"></div>
<div style="position:absolute;left:651.2px;top:512.86px;width:53.84999999999991px;height:13.639999999999986px;background:#d9e1f2"></div>
<div class="t" style="left:653.80px;top:257.15px;width:50.95px;overflow:hidden;font-size:9.2px;line-height:9.2px;font-weight:bold;color:#fff">Difference</div>
<div class="t" style="left:582.95px;width:120px;text-align:right;top:268.98px;font-size:9.7px;line-height:11px;font-weight:normal;color:#000;">-130</div>
<div class="t" style="left:582.95px;width:120px;text-align:right;top:282.62px;font-size:9.7px;line-height:11px;font-weight:normal;color:#000;">130</div>
<div class="t" style="left:582.95px;width:120px;text-align:right;top:296.26px;font-size:9.7px;line-height:11px;font-weight:normal;color:#000;">10</div>
<div class="t" style="left:582.95px;width:120px;text-align:right;top:309.90px;font-size:9.7px;line-height:11px;font-weight:normal;color:#000;">190</div>
<div class="t" style="left:582.95px;width:120px;text-align:right;top:323.54px;font-size:9.7px;line-height:11px;font-weight:normal;color:#000;">30</div>
<div class="t" style="left:582.95px;width:120px;text-align:right;top:337.18px;font-size:9.7px;line-height:11px;font-weight:normal;color:#000;">-10</div>
<div class="t" style="left:582.95px;width:120px;text-align:right;top:350.82px;font-size:9.7px;line-height:11px;font-weight:normal;color:#000;">-10</div>
<div class="t" style="left:582.95px;width:120px;text-align:right;top:364.46px;font-size:9.7px;line-height:11px;font-weight:normal;color:#000;">30</div>
<div class="t" style="left:582.95px;width:120px;text-align:right;top:378.10px;font-size:9.7px;line-height:11px;font-weight:normal;color:#000;">10</div>
<div class="t" style="left:582.95px;width:120px;text-align:right;top:391.74px;font-size:9.7px;line-height:11px;font-weight:normal;color:#000;">80</div>
<div class="t" style="left:582.95px;width:120px;text-align:right;top:405.38px;font-size:9.7px;line-height:11px;font-weight:normal;color:#000;">260</div>
<div class="t" style="left:582.95px;width:120px;text-align:right;top:419.02px;font-size:9.7px;line-height:11px;font-weight:normal;color:#000;">10</div>
<div class="t" style="left:582.95px;width:120px;text-align:right;top:432.66px;font-size:9.7px;line-height:11px;font-weight:normal;color:#000;">120</div>
<div class="t" style="left:582.95px;width:120px;text-align:right;top:446.30px;font-size:9.7px;line-height:11px;font-weight:normal;color:#000;">-60</div>
<div class="t" style="left:582.95px;width:120px;text-align:right;top:459.94px;font-size:9.7px;line-height:11px;font-weight:normal;color:#000;">-10</div>
<div class="t" style="left:582.95px;width:120px;text-align:right;top:473.58px;font-size:9.7px;line-height:11px;font-weight:normal;color:#000;">-150</div>
<div class="t" style="left:582.95px;width:120px;text-align:right;top:487.22px;font-size:9.7px;line-height:11px;font-weight:normal;color:#000;">-10</div>
<div class="t" style="left:582.95px;width:120px;text-align:right;top:500.86px;font-size:9.7px;line-height:11px;font-weight:normal;color:#000;">-150</div>
<div class="t" style="left:582.95px;width:120px;text-align:right;top:514.50px;font-size:9.7px;line-height:11px;font-weight:normal;color:#000;">-150</div>
<div class="t" style="left:582.95px;width:120px;text-align:right;top:528.14px;font-size:9.7px;line-height:11px;font-weight:normal;color:#000;">-10</div>
<div class="t" style="left:582.95px;width:120px;text-align:right;top:542.48px;font-size:9.1px;line-height:10px;font-weight:bold;color:#000;">180</div>
<div style="position:absolute;left:48px;top:584.4px;width:267.8px;height:13.590000000000032px;background:#4472c4"></div>
<div style="position:absolute;left:48px;top:597.99px;width:267.8px;height:13.589999999999918px;background:#d9e1f2"></div>
<div style="position:absolute;left:48px;top:625.17px;width:267.8px;height:13.590000000000032px;background:#d9e1f2"></div>
<div class="t" style="left:49.80px;top:587.80px;width:75.70px;overflow:hidden;font-size:9.2px;line-height:9.2px;font-weight:bold;color:#fff">Transaction date</div>
<div class="t" style="left:127.80px;top:587.80px;width:105.70px;overflow:hidden;font-size:9.2px;line-height:9.2px;font-weight:bold;color:#fff">Transaction category</div>
<div class="t" style="left:235.80px;top:587.80px;width:79.70px;overflow:hidden;font-size:9.2px;line-height:9.2px;font-weight:bold;color:#fff">Amount</div>
<div class="t" style="left:3.70px;width:120px;text-align:right;top:599.58px;font-size:9.7px;line-height:11px;font-weight:normal;color:#000;">2/19/2024</div>
<div class="t" style="left:127.80px;top:599.58px;font-size:9.6px;line-height:11px;font-weight:normal;color:#000;letter-spacing:0.3px;">Food</div>
<div class="t" style="left:193.70px;width:120px;text-align:right;top:599.58px;font-size:9.7px;line-height:11px;font-weight:normal;color:#000;">120</div>
<div class="t" style="left:3.70px;width:120px;text-align:right;top:613.17px;font-size:9.7px;line-height:11px;font-weight:normal;color:#000;">2/19/2024</div>
<div class="t" style="left:127.80px;top:613.17px;font-size:9.6px;line-height:11px;font-weight:normal;color:#000;letter-spacing:0.3px;">Transportation</div>
<div class="t" style="left:193.70px;width:120px;text-align:right;top:613.17px;font-size:9.7px;line-height:11px;font-weight:normal;color:#000;">150</div>
<div class="t" style="left:3.70px;width:120px;text-align:right;top:626.76px;font-size:9.7px;line-height:11px;font-weight:normal;color:#000;">2/20/2024</div>
<div class="t" style="left:127.80px;top:626.76px;font-size:9.6px;line-height:11px;font-weight:normal;color:#000;letter-spacing:0.3px;">Entertainment</div>
<div class="t" style="left:193.70px;width:120px;text-align:right;top:626.76px;font-size:9.7px;line-height:11px;font-weight:normal;color:#000;">160</div>
<div class="t" style="left:3.70px;width:120px;text-align:right;top:640.35px;font-size:9.7px;line-height:11px;font-weight:normal;color:#000;">2/23/2024</div>
<div class="t" style="left:127.80px;top:640.35px;font-size:9.6px;line-height:11px;font-weight:normal;color:#000;letter-spacing:0.3px;">Entertainment</div>
<div class="t" style="left:193.70px;width:120px;text-align:right;top:640.35px;font-size:9.7px;line-height:11px;font-weight:normal;color:#000;">160</div>
<div class="t" style="left:49.80px;top:654.64px;font-size:9.1px;line-height:10px;font-weight:bold;color:#000;">Totals</div>
<div class="t" style="left:193.70px;width:120px;text-align:right;top:654.64px;font-size:9.1px;line-height:10px;font-weight:bold;color:#000;">590</div>
<div style="position:absolute;left:360.95px;top:584.4px;width:244.84999999999997px;height:13.590000000000032px;background:#4472c4"></div>
<div style="position:absolute;left:360.95px;top:597.99px;width:244.84999999999997px;height:13.589999999999918px;background:#d9e1f2"></div>
<div style="position:absolute;left:360.95px;top:625.17px;width:244.84999999999997px;height:13.590000000000032px;background:#d9e1f2"></div>
<div class="t" style="left:363.55px;top:587.80px;width:85.95px;overflow:hidden;font-size:9.2px;line-height:9.2px;font-weight:bold;color:#fff">Date</div>
<div class="t" style="left:451.80px;top:587.80px;width:103.70px;overflow:hidden;font-size:9.2px;line-height:9.2px;font-weight:bold;color:#fff">Expenditure category</div>
<div class="t" style="left:557.80px;top:587.80px;width:47.70px;overflow:hidden;font-size:9.2px;line-height:9.2px;font-weight:bold;color:#fff">Budget amount</div>
<div class="t" style="left:327.70px;width:120px;text-align:right;top:599.58px;font-size:9.7px;line-height:11px;font-weight:normal;color:#000;">2/19/2024</div>
<div class="t" style="left:451.80px;top:599.58px;font-size:9.6px;line-height:11px;font-weight:normal;color:#000;letter-spacing:0.3px;">Food</div>
<div class="t" style="left:483.70px;width:120px;text-align:right;top:599.58px;font-size:9.7px;line-height:11px;font-weight:normal;color:#000;">120</div>
<div class="t" style="left:327.70px;width:120px;text-align:right;top:613.17px;font-size:9.7px;line-height:11px;font-weight:normal;color:#000;">2/19/2024</div>
<div class="t" style="left:451.80px;top:613.17px;font-size:9.6px;line-height:11px;font-weight:normal;color:#000;letter-spacing:0.3px;">Transportation</div>
<div class="t" style="left:483.70px;width:120px;text-align:right;top:613.17px;font-size:9.7px;line-height:11px;font-weight:normal;color:#000;">150</div>
<div class="t" style="left:327.70px;width:120px;text-align:right;top:626.76px;font-size:9.7px;line-height:11px;font-weight:normal;color:#000;">2/20/2024</div>
<div class="t" style="left:451.80px;top:626.76px;font-size:9.6px;line-height:11px;font-weight:normal;color:#000;letter-spacing:0.3px;">Entertainment</div>
<div class="t" style="left:483.70px;width:120px;text-align:right;top:626.76px;font-size:9.7px;line-height:11px;font-weight:normal;color:#000;">160</div>
<div class="t" style="left:327.70px;width:120px;text-align:right;top:640.35px;font-size:9.7px;line-height:11px;font-weight:normal;color:#000;">2/23/2024</div>
<div class="t" style="left:451.80px;top:640.35px;font-size:9.6px;line-height:11px;font-weight:normal;color:#000;letter-spacing:0.3px;">Entertainment</div>
<div class="t" style="left:483.70px;width:120px;text-align:right;top:640.35px;font-size:9.7px;line-height:11px;font-weight:normal;color:#000;">160</div>
<div class="t" style="left:363.55px;top:654.64px;font-size:9.1px;line-height:10px;font-weight:bold;color:#000;">Totals</div>
<div class="t" style="left:483.70px;width:120px;text-align:right;top:654.64px;font-size:9.1px;line-height:10px;font-weight:bold;color:#000;">590</div>
<div style="position:absolute;left:651.2px;top:584.4px;width:53.84999999999991px;height:13.590000000000032px;background:#4472c4"></div>
<div style="position:absolute;left:651.2px;top:597.99px;width:53.84999999999991px;height:13.589999999999918px;background:#d9e1f2"></div>
<div style="position:absolute;left:651.2px;top:625.17px;width:53.84999999999991px;height:13.590000000000032px;background:#d9e1f2"></div>
<div class="t" style="left:653.80px;top:587.80px;width:50.95px;overflow:hidden;font-size:9.2px;line-height:9.2px;font-weight:bold;color:#fff">Difference</div>
<div class="t" style="left:582.95px;width:120px;text-align:right;top:599.58px;font-size:9.7px;line-height:11px;font-weight:normal;color:#000;">0</div>
<div class="t" style="left:582.95px;width:120px;text-align:right;top:613.17px;font-size:9.7px;line-height:11px;font-weight:normal;color:#000;">0</div>
<div class="t" style="left:582.95px;width:120px;text-align:right;top:626.76px;font-size:9.7px;line-height:11px;font-weight:normal;color:#000;">0</div>
<div class="t" style="left:582.95px;width:120px;text-align:right;top:640.35px;font-size:9.7px;line-height:11px;font-weight:normal;color:#000;">0</div>
<div class="t" style="left:582.95px;width:120px;text-align:right;top:654.64px;font-size:9.1px;line-height:10px;font-weight:bold;color:#000;">0</div>
<div style="position:absolute;left:749.2px;top:430.2px;width:40px;height:15.6px;border:1.8px solid #217346;box-sizing:border-box"></div>
<div style="position:absolute;left:5.6px;top:255px;width:1.1px;height:428px;background:#8a8a8a"></div>
<div style="position:absolute;left:5.6px;top:255px;width:4px;height:1.1px;background:#8a8a8a"></div>
<div style="position:absolute;left:18.6px;top:259.91999999999996px;width:1.2px;height:1.2px;background:#8a8a8a"></div>
<div style="position:absolute;left:18.6px;top:273.55999999999995px;width:1.2px;height:1.2px;background:#8a8a8a"></div>
<div style="position:absolute;left:18.6px;top:287.2px;width:1.2px;height:1.2px;background:#8a8a8a"></div>
<div style="position:absolute;left:18.6px;top:300.84px;width:1.2px;height:1.2px;background:#8a8a8a"></div>
<div style="position:absolute;left:18.6px;top:314.47999999999996px;width:1.2px;height:1.2px;background:#8a8a8a"></div>
<div style="position:absolute;left:18.6px;top:328.11999999999995px;width:1.2px;height:1.2px;background:#8a8a8a"></div>
<div style="position:absolute;left:18.6px;top:341.76px;width:1.2px;height:1.2px;background:#8a8a8a"></div>
<div style="position:absolute;left:18.6px;top:355.4px;width:1.2px;height:1.2px;background:#8a8a8a"></div>
<div style="position:absolute;left:18.6px;top:369.03999999999996px;width:1.2px;height:1.2px;background:#8a8a8a"></div>
<div style="position:absolute;left:18.6px;top:382.67999999999995px;width:1.2px;height:1.2px;background:#8a8a8a"></div>
<div style="position:absolute;left:18.6px;top:396.32px;width:1.2px;height:1.2px;background:#8a8a8a"></div>
<div style="position:absolute;left:18.6px;top:409.96px;width:1.2px;height:1.2px;background:#8a8a8a"></div>
<div style="position:absolute;left:18.6px;top:423.59999999999997px;width:1.2px;height:1.2px;background:#8a8a8a"></div>
<div style="position:absolute;left:18.6px;top:437.23999999999995px;width:1.2px;height:1.2px;background:#8a8a8a"></div>
<div style="position:absolute;left:18.6px;top:450.88px;width:1.2px;height:1.2px;background:#8a8a8a"></div>
<div style="position:absolute;left:18.6px;top:464.52px;width:1.2px;height:1.2px;background:#8a8a8a"></div>
<div style="position:absolute;left:18.6px;top:478.15999999999997px;width:1.2px;height:1.2px;background:#8a8a8a"></div>
<div style="position:absolute;left:18.6px;top:491.79999999999995px;width:1.2px;height:1.2px;background:#8a8a8a"></div>
<div style="position:absolute;left:18.6px;top:505.44px;width:1.2px;height:1.2px;background:#8a8a8a"></div>
<div style="position:absolute;left:18.6px;top:519.08px;width:1.2px;height:1.2px;background:#8a8a8a"></div>
<div style="position:absolute;left:18.6px;top:532.7199999999999px;width:1.2px;height:1.2px;background:#8a8a8a"></div>
<div style="position:absolute;left:18.6px;top:546.36px;width:1.2px;height:1.2px;background:#8a8a8a"></div>
<div style="position:absolute;left:18.6px;top:560.0px;width:1.2px;height:1.2px;background:#8a8a8a"></div>
<div style="position:absolute;left:18.6px;top:575.3px;width:1.2px;height:1.2px;background:#8a8a8a"></div>
<div style="position:absolute;left:18.6px;top:590.5949999999999px;width:1.2px;height:1.2px;background:#8a8a8a"></div>
<div style="position:absolute;left:18.6px;top:604.185px;width:1.2px;height:1.2px;background:#8a8a8a"></div>
<div style="position:absolute;left:18.6px;top:617.775px;width:1.2px;height:1.2px;background:#8a8a8a"></div>
<div style="position:absolute;left:18.6px;top:631.3649999999999px;width:1.2px;height:1.2px;background:#8a8a8a"></div>
<div style="position:absolute;left:18.6px;top:644.955px;width:1.2px;height:1.2px;background:#8a8a8a"></div>
<div style="position:absolute;left:18.6px;top:658.545px;width:1.2px;height:1.2px;background:#8a8a8a"></div>
<div style="position:absolute;left:18.6px;top:672.1349999999999px;width:1.2px;height:1.2px;background:#8a8a8a"></div>
<div style="position:absolute;left:0px;top:683px;width:768px;height:33px;background:#fff"></div>
<div style="position:absolute;left:0px;top:683px;width:374.6px;height:28.5px;background:#e8e5e7;border-radius:0 5px 0 0"></div>
<div style="position:absolute;left:511.4px;top:683px;width:260px;height:28.5px;background:#e8e5e7;border-radius:0 0 0 5px;border-top-left-radius:5px"></div>
<div style="position:absolute;left:370px;top:698px;width:150px;height:13.5px;background:#e8e5e7"></div>
<div style="position:absolute;left:374.6px;top:681px;width:136.8px;height:27px;background:#fff;border-radius:0 0 5px 5px"></div>
<div style="position:absolute;left:0px;top:711.3px;width:768px;height:1px;background:#d9d7d9"></div>
<div style="position:absolute;left:0px;top:712.3px;width:768px;height:4px;background:#f4f4f4"></div>
<svg style="left:22.5px;top:692.5px" width="6" height="9" viewBox="0 0 6 9"><path d="M5.3 0.5 L1 4.5 L5.3 8.5" fill="none" stroke="#8a8a8a" stroke-width="1"/></svg>
<svg style="left:52px;top:692.5px" width="6" height="9" viewBox="0 0 6 9"><path d="M0.7 0.5 L5 4.5 L0.7 8.5" fill="none" stroke="#8a8a8a" stroke-width="1"/></svg>
<div class="t" style="left:110.20px;top:690.30px;font-size:12.8px;line-height:15px;font-weight:normal;color:#333;">Demo trip budget</div>
<div style="position:absolute;left:221.5px;top:690px;width:1px;height:15.5px;background:#cfcdcf"></div>
<div class="t" style="left:234.50px;top:691.30px;font-size:12.45px;line-height:14px;font-weight:normal;color:#333;">Demo bank statement</div>
<div style="position:absolute;left:370px;top:690px;width:1px;height:15.5px;background:#cfcdcf"></div>
<div class="t" style="left:382.00px;top:687.30px;font-size:12.75px;line-height:15px;font-weight:normal;color:#1f1f1f;-webkit-text-stroke:0.45px #1f1f1f;">Reconciliation Report</div>
<div style="position:absolute;left:381.5px;top:704.3px;width:122.5px;height:1.8px;background:#107c41;border-radius:1px"></div>
<div style="position:absolute;left:515px;top:690px;width:1px;height:15.5px;background:#cfcdcf"></div>
<svg style="left:553px;top:692px" width="11" height="11" viewBox="0 0 11 11"><path d="M5.5 0.5 V10.5 M0.5 5.5 H10.5" fill="none" stroke="#444" stroke-width="1.2"/></svg>
</body></html>
